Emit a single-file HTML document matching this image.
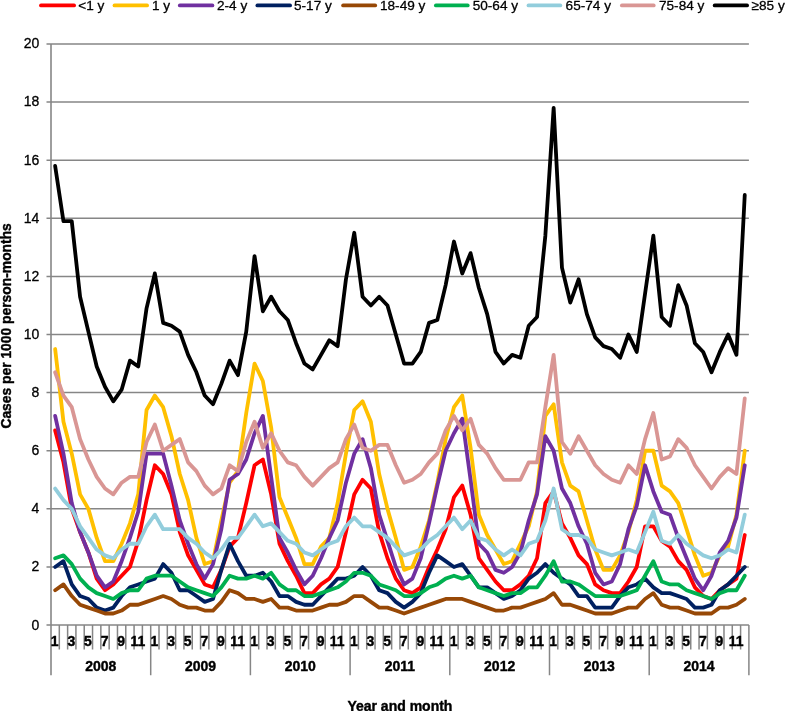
<!DOCTYPE html>
<html lang="en"><head><meta charset="utf-8"><title>Cases per 1000 person-months by age group</title>
<style>html,body{margin:0;padding:0;background:#fff}svg{display:block}text{font-family:"Liberation Sans",Arial,Helvetica,sans-serif;fill:#000;stroke:#000;stroke-width:0.3px;stroke-linejoin:round}.b{font-weight:bold;stroke-width:0.4px}</style></head><body>
<svg width="785" height="711" viewBox="0 0 785 711">
<rect width="785" height="711" fill="#fff"/>
<path d="M46.5 625.10H748.90M46.5 566.98H748.90M46.5 508.86H748.90M46.5 450.74H748.90M46.5 392.62H748.90M46.5 334.50H748.90M46.5 276.38H748.90M46.5 218.26H748.90M46.5 160.14H748.90M46.5 102.02H748.90M46.5 43.90H748.90" stroke="#868686" stroke-width="1.5" fill="none"/>
<path d="M51.00 43.90V675.3" stroke="#868686" stroke-width="1.6" fill="none"/>
<path d="M59.31 625.1V649.6M67.62 625.1V649.6M75.92 625.1V649.6M84.23 625.1V649.6M92.54 625.1V649.6M100.85 625.1V649.6M109.16 625.1V649.6M117.47 625.1V649.6M125.78 625.1V649.6M134.08 625.1V649.6M142.39 625.1V649.6M150.70 625.1V675.3M159.01 625.1V649.6M167.32 625.1V649.6M175.62 625.1V649.6M183.93 625.1V649.6M192.24 625.1V649.6M200.55 625.1V649.6M208.86 625.1V649.6M217.17 625.1V649.6M225.47 625.1V649.6M233.78 625.1V649.6M242.09 625.1V649.6M250.40 625.1V675.3M258.71 625.1V649.6M267.02 625.1V649.6M275.33 625.1V649.6M283.63 625.1V649.6M291.94 625.1V649.6M300.25 625.1V649.6M308.56 625.1V649.6M316.87 625.1V649.6M325.18 625.1V649.6M333.48 625.1V649.6M341.79 625.1V649.6M350.10 625.1V675.3M358.41 625.1V649.6M366.72 625.1V649.6M375.03 625.1V649.6M383.33 625.1V649.6M391.64 625.1V649.6M399.95 625.1V649.6M408.26 625.1V649.6M416.57 625.1V649.6M424.88 625.1V649.6M433.18 625.1V649.6M441.49 625.1V649.6M449.80 625.1V675.3M458.11 625.1V649.6M466.42 625.1V649.6M474.73 625.1V649.6M483.03 625.1V649.6M491.34 625.1V649.6M499.65 625.1V649.6M507.96 625.1V649.6M516.27 625.1V649.6M524.58 625.1V649.6M532.88 625.1V649.6M541.19 625.1V649.6M549.50 625.1V675.3M557.81 625.1V649.6M566.12 625.1V649.6M574.43 625.1V649.6M582.73 625.1V649.6M591.04 625.1V649.6M599.35 625.1V649.6M607.66 625.1V649.6M615.97 625.1V649.6M624.27 625.1V649.6M632.58 625.1V649.6M640.89 625.1V649.6M649.20 625.1V675.3M657.51 625.1V649.6M665.82 625.1V649.6M674.12 625.1V649.6M682.43 625.1V649.6M690.74 625.1V649.6M699.05 625.1V649.6M707.36 625.1V649.6M715.67 625.1V649.6M723.98 625.1V649.6M732.28 625.1V649.6M740.59 625.1V649.6M748.90 625.1V675.3" stroke="#868686" stroke-width="1.5" fill="none"/>
<text x="39.3" y="629.50" font-size="14" text-anchor="end">0</text>
<text x="39.3" y="571.38" font-size="14" text-anchor="end">2</text>
<text x="39.3" y="513.26" font-size="14" text-anchor="end">4</text>
<text x="39.3" y="455.14" font-size="14" text-anchor="end">6</text>
<text x="39.3" y="397.02" font-size="14" text-anchor="end">8</text>
<text x="39.3" y="338.90" font-size="14" text-anchor="end">10</text>
<text x="39.3" y="280.78" font-size="14" text-anchor="end">12</text>
<text x="39.3" y="222.66" font-size="14" text-anchor="end">14</text>
<text x="39.3" y="164.54" font-size="14" text-anchor="end">16</text>
<text x="39.3" y="106.42" font-size="14" text-anchor="end">18</text>
<text x="39.3" y="48.30" font-size="14" text-anchor="end">20</text>
<text class="b" x="54.75" y="646.2" font-size="14" text-anchor="middle">1</text>
<text class="b" x="71.37" y="646.2" font-size="14" text-anchor="middle">3</text>
<text class="b" x="87.99" y="646.2" font-size="14" text-anchor="middle">5</text>
<text class="b" x="104.60" y="646.2" font-size="14" text-anchor="middle">7</text>
<text class="b" x="121.22" y="646.2" font-size="14" text-anchor="middle">9</text>
<text class="b" x="137.84" y="646.2" font-size="14" text-anchor="middle">11</text>
<text class="b" x="154.45" y="646.2" font-size="14" text-anchor="middle">1</text>
<text class="b" x="171.07" y="646.2" font-size="14" text-anchor="middle">3</text>
<text class="b" x="187.69" y="646.2" font-size="14" text-anchor="middle">5</text>
<text class="b" x="204.30" y="646.2" font-size="14" text-anchor="middle">7</text>
<text class="b" x="220.92" y="646.2" font-size="14" text-anchor="middle">9</text>
<text class="b" x="237.54" y="646.2" font-size="14" text-anchor="middle">11</text>
<text class="b" x="254.15" y="646.2" font-size="14" text-anchor="middle">1</text>
<text class="b" x="270.77" y="646.2" font-size="14" text-anchor="middle">3</text>
<text class="b" x="287.39" y="646.2" font-size="14" text-anchor="middle">5</text>
<text class="b" x="304.00" y="646.2" font-size="14" text-anchor="middle">7</text>
<text class="b" x="320.62" y="646.2" font-size="14" text-anchor="middle">9</text>
<text class="b" x="337.24" y="646.2" font-size="14" text-anchor="middle">11</text>
<text class="b" x="353.85" y="646.2" font-size="14" text-anchor="middle">1</text>
<text class="b" x="370.47" y="646.2" font-size="14" text-anchor="middle">3</text>
<text class="b" x="387.09" y="646.2" font-size="14" text-anchor="middle">5</text>
<text class="b" x="403.70" y="646.2" font-size="14" text-anchor="middle">7</text>
<text class="b" x="420.32" y="646.2" font-size="14" text-anchor="middle">9</text>
<text class="b" x="436.94" y="646.2" font-size="14" text-anchor="middle">11</text>
<text class="b" x="453.55" y="646.2" font-size="14" text-anchor="middle">1</text>
<text class="b" x="470.17" y="646.2" font-size="14" text-anchor="middle">3</text>
<text class="b" x="486.79" y="646.2" font-size="14" text-anchor="middle">5</text>
<text class="b" x="503.40" y="646.2" font-size="14" text-anchor="middle">7</text>
<text class="b" x="520.02" y="646.2" font-size="14" text-anchor="middle">9</text>
<text class="b" x="536.64" y="646.2" font-size="14" text-anchor="middle">11</text>
<text class="b" x="553.25" y="646.2" font-size="14" text-anchor="middle">1</text>
<text class="b" x="569.87" y="646.2" font-size="14" text-anchor="middle">3</text>
<text class="b" x="586.49" y="646.2" font-size="14" text-anchor="middle">5</text>
<text class="b" x="603.10" y="646.2" font-size="14" text-anchor="middle">7</text>
<text class="b" x="619.72" y="646.2" font-size="14" text-anchor="middle">9</text>
<text class="b" x="636.34" y="646.2" font-size="14" text-anchor="middle">11</text>
<text class="b" x="652.95" y="646.2" font-size="14" text-anchor="middle">1</text>
<text class="b" x="669.57" y="646.2" font-size="14" text-anchor="middle">3</text>
<text class="b" x="686.19" y="646.2" font-size="14" text-anchor="middle">5</text>
<text class="b" x="702.80" y="646.2" font-size="14" text-anchor="middle">7</text>
<text class="b" x="719.42" y="646.2" font-size="14" text-anchor="middle">9</text>
<text class="b" x="736.04" y="646.2" font-size="14" text-anchor="middle">11</text>
<text class="b" x="100.85" y="671.3" font-size="14" text-anchor="middle">2008</text>
<text class="b" x="200.55" y="671.3" font-size="14" text-anchor="middle">2009</text>
<text class="b" x="300.25" y="671.3" font-size="14" text-anchor="middle">2010</text>
<text class="b" x="399.95" y="671.3" font-size="14" text-anchor="middle">2011</text>
<text class="b" x="499.65" y="671.3" font-size="14" text-anchor="middle">2012</text>
<text class="b" x="599.35" y="671.3" font-size="14" text-anchor="middle">2013</text>
<text class="b" x="699.05" y="671.3" font-size="14" text-anchor="middle">2014</text>
<text class="b" x="399.9" y="710.9" font-size="14" text-anchor="middle">Year and month</text>
<text class="b" transform="translate(10.7 325.9) rotate(-90)" font-size="13.85" text-anchor="middle">Cases per 1000 person-months</text>
<polyline points="55.15,430.40 63.46,462.36 71.77,508.86 80.08,532.11 88.39,552.45 96.70,578.60 105.00,590.23 113.31,584.42 121.62,575.70 129.93,566.98 138.24,540.83 146.55,500.14 154.85,465.27 163.16,473.99 171.47,494.33 179.78,532.11 188.09,555.36 196.40,569.89 204.70,584.42 213.01,587.32 221.32,569.89 229.63,546.64 237.94,537.92 246.25,503.05 254.55,465.27 262.86,459.46 271.17,494.33 279.48,543.73 287.79,561.17 296.10,575.70 304.40,593.13 312.71,593.13 321.02,584.42 329.33,578.60 337.64,566.98 345.95,532.11 354.25,494.33 362.56,479.80 370.87,488.52 379.18,532.11 387.49,558.26 395.80,578.60 404.10,590.23 412.41,593.13 420.72,587.32 429.03,566.98 437.34,549.54 445.65,529.20 453.95,497.24 462.26,485.61 470.57,514.67 478.88,558.26 487.19,569.89 495.50,581.51 503.80,590.23 512.11,590.23 520.42,584.42 528.73,575.70 537.04,558.26 545.35,503.05 553.65,491.42 561.96,523.39 570.27,537.92 578.58,555.36 586.89,564.07 595.20,584.42 603.50,590.23 611.81,593.13 620.12,593.13 628.43,581.51 636.74,566.98 645.05,526.30 653.35,526.30 661.66,540.83 669.97,546.64 678.28,561.17 686.59,569.89 694.90,587.32 703.20,596.04 711.51,598.95 719.82,590.23 728.13,584.42 736.44,578.60 744.75,535.01" fill="none" stroke="#FF0000" stroke-width="3.8" stroke-linejoin="round" stroke-linecap="round"/>
<polyline points="55.15,349.03 63.46,421.68 71.77,453.65 80.08,494.33 88.39,508.86 96.70,537.92 105.00,561.17 113.31,561.17 121.62,543.73 129.93,523.39 138.24,494.33 146.55,410.06 154.85,395.53 163.16,407.15 171.47,436.21 179.78,473.99 188.09,500.14 196.40,537.92 204.70,564.07 213.01,561.17 221.32,520.48 229.63,482.71 237.94,471.08 246.25,412.96 254.55,363.56 262.86,381.00 271.17,427.49 279.48,497.24 287.79,517.58 296.10,537.92 304.40,564.07 312.71,564.07 321.02,546.64 329.33,537.92 337.64,503.05 345.95,453.65 354.25,410.06 362.56,401.34 370.87,421.68 379.18,473.99 387.49,508.86 395.80,537.92 404.10,569.89 412.41,566.98 420.72,546.64 429.03,520.48 437.34,482.71 445.65,439.12 453.95,407.15 462.26,395.53 470.57,447.83 478.88,514.67 487.19,535.01 495.50,549.54 503.80,564.07 512.11,561.17 520.42,543.73 528.73,526.30 537.04,491.42 545.35,415.87 553.65,404.24 561.96,462.36 570.27,485.61 578.58,491.42 586.89,520.48 595.20,549.54 603.50,569.89 611.81,569.89 620.12,555.36 628.43,532.11 636.74,500.14 645.05,450.74 653.35,450.74 661.66,485.61 669.97,491.42 678.28,503.05 686.59,529.20 694.90,555.36 703.20,575.70 711.51,572.79 719.82,555.36 728.13,546.64 736.44,514.67 744.75,450.74" fill="none" stroke="#FFC000" stroke-width="3.8" stroke-linejoin="round" stroke-linecap="round"/>
<polyline points="55.15,415.87 63.46,453.65 71.77,503.05 80.08,532.11 88.39,552.45 96.70,575.70 105.00,587.32 113.31,581.51 121.62,561.17 129.93,537.92 138.24,511.77 146.55,453.65 154.85,453.65 163.16,453.65 171.47,485.61 179.78,520.48 188.09,543.73 196.40,564.07 204.70,578.60 213.01,564.07 221.32,529.20 229.63,479.80 237.94,473.99 246.25,459.46 254.55,433.30 262.86,415.87 271.17,476.89 279.48,537.92 287.79,552.45 296.10,569.89 304.40,584.42 312.71,575.70 321.02,558.26 329.33,537.92 337.64,520.48 345.95,482.71 354.25,453.65 362.56,439.12 370.87,468.18 379.18,514.67 387.49,540.83 395.80,566.98 404.10,584.42 412.41,578.60 420.72,558.26 429.03,523.39 437.34,485.61 445.65,450.74 453.95,433.30 462.26,418.77 470.57,479.80 478.88,543.73 487.19,552.45 495.50,569.89 503.80,572.79 512.11,566.98 520.42,552.45 528.73,520.48 537.04,494.33 545.35,436.21 553.65,450.74 561.96,488.52 570.27,503.05 578.58,526.30 586.89,543.73 595.20,572.79 603.50,584.42 611.81,581.51 620.12,564.07 628.43,529.20 636.74,505.95 645.05,465.27 653.35,491.42 661.66,511.77 669.97,514.67 678.28,537.92 686.59,558.26 694.90,578.60 703.20,590.23 711.51,575.70 719.82,552.45 728.13,540.83 736.44,517.58 744.75,465.27" fill="none" stroke="#7030A0" stroke-width="3.8" stroke-linejoin="round" stroke-linecap="round"/>
<polyline points="55.15,566.98 63.46,561.17 71.77,584.42 80.08,596.04 88.39,598.95 96.70,607.66 105.00,610.57 113.31,607.66 121.62,596.04 129.93,587.32 138.24,584.42 146.55,581.51 154.85,578.60 163.16,564.07 171.47,572.79 179.78,590.23 188.09,590.23 196.40,596.04 204.70,601.85 213.01,598.95 221.32,569.89 229.63,543.73 237.94,561.17 246.25,575.70 254.55,575.70 262.86,572.79 271.17,581.51 279.48,596.04 287.79,596.04 296.10,601.85 304.40,604.76 312.71,604.76 321.02,596.04 329.33,587.32 337.64,578.60 345.95,578.60 354.25,575.70 362.56,566.98 370.87,575.70 379.18,590.23 387.49,593.13 395.80,601.85 404.10,607.66 412.41,601.85 420.72,593.13 429.03,572.79 437.34,555.36 445.65,561.17 453.95,566.98 462.26,564.07 470.57,575.70 478.88,587.32 487.19,587.32 495.50,593.13 503.80,598.95 512.11,596.04 520.42,590.23 528.73,578.60 537.04,572.79 545.35,564.07 553.65,572.79 561.96,578.60 570.27,584.42 578.58,596.04 586.89,596.04 595.20,607.66 603.50,607.66 611.81,607.66 620.12,596.04 628.43,587.32 636.74,584.42 645.05,578.60 653.35,587.32 661.66,593.13 669.97,593.13 678.28,596.04 686.59,598.95 694.90,607.66 703.20,607.66 711.51,604.76 719.82,590.23 728.13,584.42 736.44,575.70 744.75,566.98" fill="none" stroke="#002060" stroke-width="3.8" stroke-linejoin="round" stroke-linecap="round"/>
<polyline points="55.15,590.23 63.46,584.42 71.77,596.04 80.08,604.76 88.39,607.66 96.70,610.57 105.00,613.48 113.31,613.48 121.62,610.57 129.93,604.76 138.24,604.76 146.55,601.85 154.85,598.95 163.16,596.04 171.47,598.95 179.78,604.76 188.09,607.66 196.40,607.66 204.70,610.57 213.01,610.57 221.32,601.85 229.63,590.23 237.94,593.13 246.25,598.95 254.55,598.95 262.86,601.85 271.17,598.95 279.48,607.66 287.79,607.66 296.10,610.57 304.40,610.57 312.71,610.57 321.02,607.66 329.33,604.76 337.64,604.76 345.95,601.85 354.25,596.04 362.56,596.04 370.87,601.85 379.18,607.66 387.49,607.66 395.80,610.57 404.10,613.48 412.41,610.57 420.72,607.66 429.03,604.76 437.34,601.85 445.65,598.95 453.95,598.95 462.26,598.95 470.57,601.85 478.88,604.76 487.19,607.66 495.50,610.57 503.80,610.57 512.11,607.66 520.42,607.66 528.73,604.76 537.04,601.85 545.35,598.95 553.65,593.13 561.96,604.76 570.27,604.76 578.58,607.66 586.89,610.57 595.20,613.48 603.50,613.48 611.81,613.48 620.12,610.57 628.43,607.66 636.74,607.66 645.05,598.95 653.35,593.13 661.66,604.76 669.97,607.66 678.28,607.66 686.59,610.57 694.90,613.48 703.20,613.48 711.51,613.48 719.82,607.66 728.13,607.66 736.44,604.76 744.75,598.95" fill="none" stroke="#974806" stroke-width="3.8" stroke-linejoin="round" stroke-linecap="round"/>
<polyline points="55.15,558.26 63.46,555.36 71.77,564.07 80.08,578.60 88.39,587.32 96.70,593.13 105.00,596.04 113.31,598.95 121.62,593.13 129.93,590.23 138.24,590.23 146.55,578.60 154.85,575.70 163.16,575.70 171.47,575.70 179.78,581.51 188.09,587.32 196.40,590.23 204.70,593.13 213.01,596.04 221.32,587.32 229.63,575.70 237.94,578.60 246.25,578.60 254.55,575.70 262.86,578.60 271.17,572.79 279.48,584.42 287.79,590.23 296.10,590.23 304.40,596.04 312.71,596.04 321.02,593.13 329.33,590.23 337.64,587.32 345.95,581.51 354.25,572.79 362.56,572.79 370.87,575.70 379.18,584.42 387.49,587.32 395.80,590.23 404.10,596.04 412.41,596.04 420.72,593.13 429.03,587.32 437.34,584.42 445.65,578.60 453.95,575.70 462.26,578.60 470.57,575.70 478.88,587.32 487.19,590.23 495.50,593.13 503.80,596.04 512.11,593.13 520.42,593.13 528.73,587.32 537.04,587.32 545.35,575.70 553.65,561.17 561.96,581.51 570.27,581.51 578.58,584.42 586.89,590.23 595.20,596.04 603.50,596.04 611.81,596.04 620.12,596.04 628.43,593.13 636.74,590.23 645.05,575.70 653.35,561.17 661.66,581.51 669.97,584.42 678.28,584.42 686.59,590.23 694.90,593.13 703.20,596.04 711.51,598.95 719.82,593.13 728.13,590.23 736.44,590.23 744.75,575.70" fill="none" stroke="#00B050" stroke-width="3.8" stroke-linejoin="round" stroke-linecap="round"/>
<polyline points="55.15,488.52 63.46,500.14 71.77,508.86 80.08,526.30 88.39,537.92 96.70,549.54 105.00,555.36 113.31,558.26 121.62,549.54 129.93,543.73 138.24,543.73 146.55,526.30 154.85,514.67 163.16,529.20 171.47,529.20 179.78,529.20 188.09,537.92 196.40,543.73 204.70,552.45 213.01,558.26 221.32,549.54 229.63,537.92 237.94,537.92 246.25,526.30 254.55,514.67 262.86,526.30 271.17,523.39 279.48,532.11 287.79,540.83 296.10,543.73 304.40,552.45 312.71,555.36 321.02,549.54 329.33,543.73 337.64,540.83 345.95,526.30 354.25,517.58 362.56,526.30 370.87,526.30 379.18,532.11 387.49,537.92 395.80,546.64 404.10,555.36 412.41,552.45 420.72,549.54 429.03,540.83 437.34,535.01 445.65,526.30 453.95,517.58 462.26,529.20 470.57,520.48 478.88,537.92 487.19,540.83 495.50,549.54 503.80,555.36 512.11,549.54 520.42,555.36 528.73,543.73 537.04,540.83 545.35,520.48 553.65,488.52 561.96,529.20 570.27,535.01 578.58,535.01 586.89,537.92 595.20,549.54 603.50,552.45 611.81,555.36 620.12,552.45 628.43,549.54 636.74,552.45 645.05,532.11 653.35,511.77 661.66,540.83 669.97,543.73 678.28,535.01 686.59,543.73 694.90,549.54 703.20,555.36 711.51,558.26 719.82,555.36 728.13,549.54 736.44,552.45 744.75,514.67" fill="none" stroke="#92CDDC" stroke-width="3.8" stroke-linejoin="round" stroke-linecap="round"/>
<polyline points="55.15,372.28 63.46,395.53 71.77,407.15 80.08,439.12 88.39,459.46 96.70,476.89 105.00,488.52 113.31,494.33 121.62,482.71 129.93,476.89 138.24,476.89 146.55,442.02 154.85,424.59 163.16,450.74 171.47,444.93 179.78,439.12 188.09,462.36 196.40,471.08 204.70,485.61 213.01,494.33 221.32,488.52 229.63,465.27 237.94,471.08 246.25,442.02 254.55,421.68 262.86,447.83 271.17,433.30 279.48,450.74 287.79,462.36 296.10,465.27 304.40,476.89 312.71,485.61 321.02,476.89 329.33,468.18 337.64,462.36 345.95,439.12 354.25,424.59 362.56,447.83 370.87,450.74 379.18,444.93 387.49,444.93 395.80,465.27 404.10,482.71 412.41,479.80 420.72,473.99 429.03,462.36 437.34,453.65 445.65,430.40 453.95,415.87 462.26,430.40 470.57,418.77 478.88,444.93 487.19,453.65 495.50,468.18 503.80,479.80 512.11,479.80 520.42,479.80 528.73,462.36 537.04,462.36 545.35,407.15 553.65,354.84 561.96,442.02 570.27,453.65 578.58,436.21 586.89,450.74 595.20,465.27 603.50,473.99 611.81,479.80 620.12,482.71 628.43,465.27 636.74,473.99 645.05,439.12 653.35,412.96 661.66,459.46 669.97,456.55 678.28,439.12 686.59,447.83 694.90,465.27 703.20,476.89 711.51,488.52 719.82,476.89 728.13,468.18 736.44,473.99 744.75,398.43" fill="none" stroke="#D99694" stroke-width="3.8" stroke-linejoin="round" stroke-linecap="round"/>
<polyline points="55.15,165.95 63.46,221.17 71.77,221.17 80.08,296.72 88.39,331.59 96.70,366.47 105.00,386.81 113.31,401.34 121.62,389.71 129.93,360.65 138.24,366.47 146.55,308.35 154.85,273.47 163.16,322.88 171.47,325.78 179.78,331.59 188.09,354.84 196.40,372.28 204.70,395.53 213.01,404.24 221.32,383.90 229.63,360.65 237.94,375.18 246.25,331.59 254.55,256.04 262.86,311.25 271.17,296.72 279.48,311.25 287.79,319.97 296.10,343.22 304.40,363.56 312.71,369.37 321.02,354.84 329.33,340.31 337.64,346.12 345.95,279.29 354.25,232.79 362.56,296.72 370.87,305.44 379.18,296.72 387.49,305.44 395.80,334.50 404.10,363.56 412.41,363.56 420.72,351.94 429.03,322.88 437.34,319.97 445.65,285.10 453.95,241.51 462.26,273.47 470.57,253.13 478.88,288.00 487.19,314.16 495.50,351.94 503.80,363.56 512.11,354.84 520.42,357.75 528.73,325.78 537.04,317.06 545.35,235.70 553.65,107.83 561.96,267.66 570.27,302.53 578.58,279.29 586.89,314.16 595.20,337.41 603.50,346.12 611.81,349.03 620.12,357.75 628.43,334.50 636.74,351.94 645.05,293.82 653.35,235.70 661.66,317.06 669.97,325.78 678.28,285.10 686.59,305.44 694.90,343.22 703.20,351.94 711.51,372.28 719.82,351.94 728.13,334.50 736.44,354.84 744.75,195.01" fill="none" stroke="#000000" stroke-width="3.8" stroke-linejoin="round" stroke-linecap="round"/>
<path d="M41.00 5.45H74.10" stroke="#FF0000" stroke-width="3.8" stroke-linecap="round" fill="none"/>
<text x="78.3" y="9.9" font-size="13.6">&lt;1 y</text>
<path d="M114.50 5.45H147.10" stroke="#FFC000" stroke-width="3.8" stroke-linecap="round" fill="none"/>
<text x="152.0" y="9.9" font-size="13.6">1 y</text>
<path d="M179.80 5.45H212.40" stroke="#7030A0" stroke-width="3.8" stroke-linecap="round" fill="none"/>
<text x="217.0" y="9.9" font-size="13.6">2-4 y</text>
<path d="M257.40 5.45H290.10" stroke="#002060" stroke-width="3.8" stroke-linecap="round" fill="none"/>
<text x="294.0" y="9.9" font-size="13.6">5-17 y</text>
<path d="M343.10 5.45H375.20" stroke="#974806" stroke-width="3.8" stroke-linecap="round" fill="none"/>
<text x="380.0" y="9.9" font-size="13.6">18-49 y</text>
<path d="M435.90 5.45H467.70" stroke="#00B050" stroke-width="3.8" stroke-linecap="round" fill="none"/>
<text x="472.7" y="9.9" font-size="13.6">50-64 y</text>
<path d="M528.50 5.45H560.30" stroke="#92CDDC" stroke-width="3.8" stroke-linecap="round" fill="none"/>
<text x="565.6" y="9.9" font-size="13.6">65-74 y</text>
<path d="M621.90 5.45H653.70" stroke="#D99694" stroke-width="3.8" stroke-linecap="round" fill="none"/>
<text x="659.0" y="9.9" font-size="13.6">75-84 y</text>
<path d="M714.70 5.45H747.10" stroke="#000000" stroke-width="3.8" stroke-linecap="round" fill="none"/>
<text x="751.6" y="9.9" font-size="13.6">≥85 y</text>
</svg></body></html>
